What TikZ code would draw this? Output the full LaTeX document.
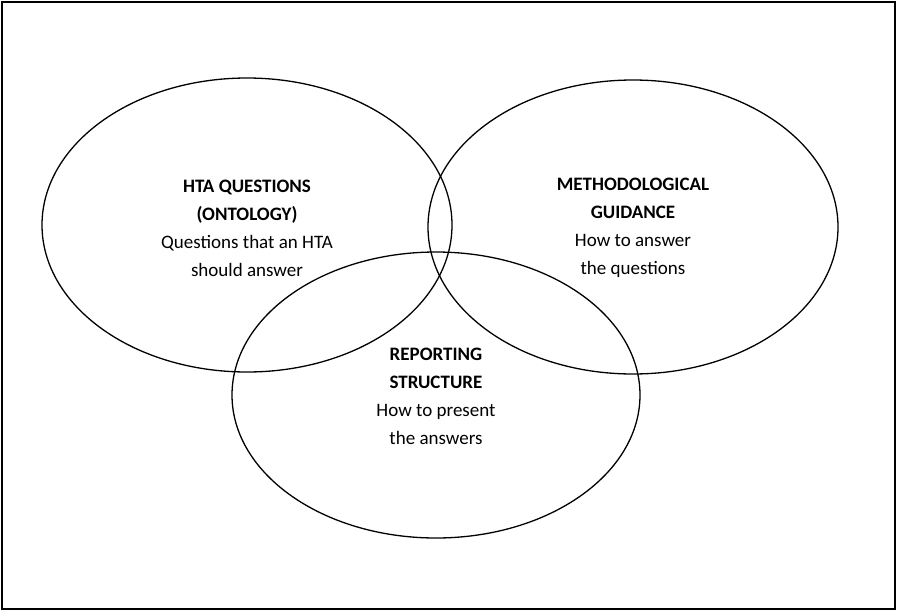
\documentclass[tikz,border=0pt]{standalone}
\usepackage{fontspec}
\setmainfont{Carlito}
\begin{document}
\begin{tikzpicture}[x=1pt,y=-1pt,
  venn/.style={draw=black,line width=1.3pt},
  lbl/.style={align=center,font=\fontsize{19}{28}\selectfont}]
\useasboundingbox (0,0) rectangle (897,611);
\draw[line width=2.5pt] (2,2) rectangle (895,609);
\draw[venn] (247,225) ellipse [x radius=205, y radius=147];
\draw[venn] (633,227) ellipse [x radius=205, y radius=147];
\draw[venn] (436,395) ellipse [x radius=204, y radius=143];
\node[lbl] (hta) at (247,228) {\textbf{HTA QUESTIONS}\\\textbf{(ONTOLOGY)}\\Questions that an HTA\\should answer};
\node[lbl] (meth) at (633,228) {\textbf{METHODOLOGICAL}\\\textbf{GUIDANCE}\\How to answer\\the questions};
\node[lbl] (rep) at (436,396) {\textbf{REPORTING}\\\textbf{STRUCTURE}\\How to present\\the answers};
\end{tikzpicture}
\end{document}
